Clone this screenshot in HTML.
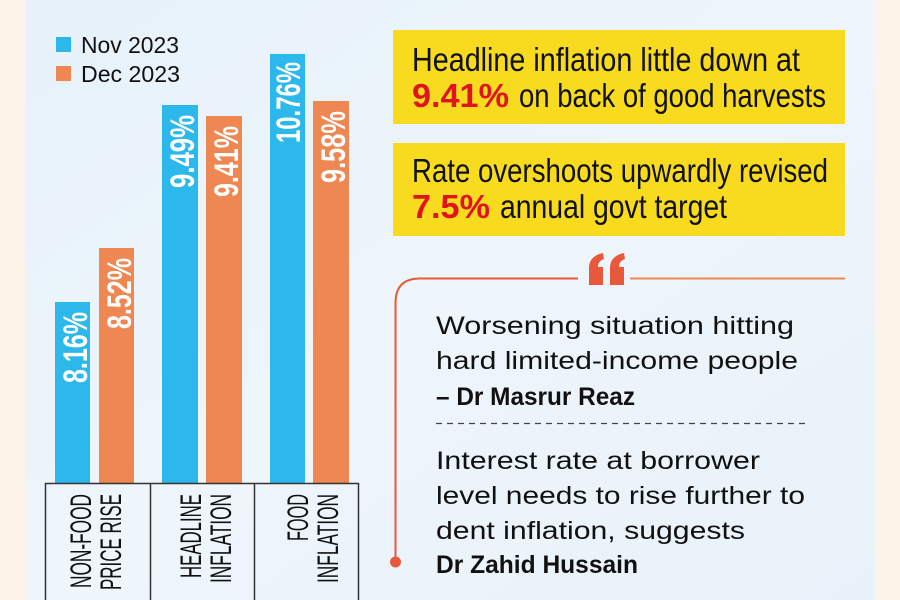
<!DOCTYPE html>
<html><head><meta charset="utf-8"><style>
html,body{margin:0;padding:0;width:900px;height:600px;overflow:hidden;background:#fdf3e8}
svg{display:block}
</style></head><body>
<svg width="900" height="600" viewBox="0 0 900 600" xmlns="http://www.w3.org/2000/svg" font-family="Liberation Sans, sans-serif">
<defs>
<linearGradient id="bg" x1="0" y1="0" x2="1" y2="1">
<stop offset="0" stop-color="#e7f2fb"/><stop offset="0.5" stop-color="#eef5fb"/><stop offset="1" stop-color="#e9f2fa"/>
</linearGradient>
</defs>
<rect x="0" y="0" width="900" height="600" fill="#fdf3e8"/>
<rect x="25" y="0" width="850" height="600" fill="url(#bg)"/>

<rect x="56" y="37" width="15" height="15" fill="#2db8ec"/>
<text x="81" y="53" font-size="23" fill="#111" textLength="98" lengthAdjust="spacingAndGlyphs">Nov 2023</text>
<rect x="56" y="66" width="15" height="15" fill="#ee8752"/>
<text x="81" y="82" font-size="23" fill="#111" textLength="99" lengthAdjust="spacingAndGlyphs">Dec 2023</text>

<rect x="55" y="302" width="35" height="181" fill="#2db8ec"/>
<rect x="99" y="248" width="35" height="235" fill="#ee8752"/>
<rect x="162" y="105" width="36" height="378" fill="#2db8ec"/>
<rect x="206" y="116" width="36" height="367" fill="#ee8752"/>
<rect x="270" y="54" width="35" height="429" fill="#2db8ec"/>
<rect x="313" y="101" width="36" height="382" fill="#ee8752"/>

<g fill="#fff" font-weight="bold" font-size="34" text-anchor="end">
<text transform="translate(87,312) rotate(-90)" textLength="71" lengthAdjust="spacingAndGlyphs">8.16%</text>
<text transform="translate(131,258) rotate(-90)" textLength="71" lengthAdjust="spacingAndGlyphs">8.52%</text>
<text transform="translate(194,115) rotate(-90)" textLength="73" lengthAdjust="spacingAndGlyphs">9.49%</text>
<text transform="translate(238,126) rotate(-90)" textLength="71" lengthAdjust="spacingAndGlyphs">9.41%</text>
<text transform="translate(300,62) rotate(-90)" textLength="81" lengthAdjust="spacingAndGlyphs">10.76%</text>
<text transform="translate(345,111) rotate(-90)" textLength="72" lengthAdjust="spacingAndGlyphs">9.58%</text>
</g>

<path d="M45.5 600 V483.5 H358.5 V600 M150.5 483.5 V600 M254.5 483.5 V600" fill="none" stroke="#333" stroke-width="1.5"/>
<g fill="#111" font-size="30" text-anchor="end">
<text transform="translate(91,494) rotate(-90)" textLength="94" lengthAdjust="spacingAndGlyphs">NON-FOOD</text>
<text transform="translate(121,494) rotate(-90)" textLength="96" lengthAdjust="spacingAndGlyphs">PRICE RISE</text>
<text transform="translate(201,494) rotate(-90)" textLength="84" lengthAdjust="spacingAndGlyphs">HEADLINE</text>
<text transform="translate(231,494) rotate(-90)" textLength="89" lengthAdjust="spacingAndGlyphs">INFLATION</text>
<text transform="translate(308,494) rotate(-90)" textLength="47" lengthAdjust="spacingAndGlyphs">FOOD</text>
<text transform="translate(338,494) rotate(-90)" textLength="89" lengthAdjust="spacingAndGlyphs">INFLATION</text>
</g>

<rect x="393" y="30" width="452" height="94" fill="#f8db1f"/>
<rect x="393" y="143" width="452" height="93" fill="#f8db1f"/>
<g font-size="33" fill="#111">
<text x="412" y="71" textLength="388" lengthAdjust="spacingAndGlyphs">Headline inflation little down at</text>
<text x="412" y="107" font-weight="bold" fill="#e0141e" textLength="97" lengthAdjust="spacingAndGlyphs">9.41%</text>
<text x="519" y="107" textLength="307" lengthAdjust="spacingAndGlyphs">on back of good harvests</text>
<text x="412" y="182" textLength="416" lengthAdjust="spacingAndGlyphs">Rate overshoots upwardly revised</text>
<text x="412" y="218" font-weight="bold" fill="#e0141e" textLength="78" lengthAdjust="spacingAndGlyphs">7.5%</text>
<text x="500" y="218" textLength="227" lengthAdjust="spacingAndGlyphs">annual govt target</text>
</g>

<path d="M578 278.5 H420 Q395.5 278.5 395.5 303 V562" fill="none" stroke="#e8583a" stroke-width="2"/>
<path d="M630 278.5 H845" fill="none" stroke="#ee8752" stroke-width="2"/>
<circle cx="395.5" cy="562" r="5.5" fill="#e8583a"/>
<path d="M589 285 V268 Q589 256 603 253 L604 259 Q598 261 598 267 H603 V285 Z M610 285 V268 Q610 256 624 253 L625 259 Q619 261 619 267 H624 V285 Z" fill="#e8583a"/>

<g font-size="25" fill="#111">
<text x="436" y="334" textLength="358" lengthAdjust="spacingAndGlyphs">Worsening situation hitting</text>
<text x="436" y="369" textLength="362" lengthAdjust="spacingAndGlyphs">hard limited-income people</text>
<text x="436" y="405" font-weight="bold" textLength="199" lengthAdjust="spacingAndGlyphs">– Dr Masrur Reaz</text>
<text x="436" y="469" textLength="324" lengthAdjust="spacingAndGlyphs">Interest rate at borrower</text>
<text x="436" y="504" textLength="369" lengthAdjust="spacingAndGlyphs">level needs to rise further to</text>
<text x="436" y="539" textLength="309" lengthAdjust="spacingAndGlyphs">dent inflation, suggests</text>
<text x="436" y="573" font-weight="bold" textLength="202" lengthAdjust="spacingAndGlyphs">Dr Zahid Hussain</text>
</g>
<line x1="436" y1="423.5" x2="805" y2="423.5" stroke="#444" stroke-width="1.2" stroke-dasharray="6,5"/>
</svg>
</body></html>
